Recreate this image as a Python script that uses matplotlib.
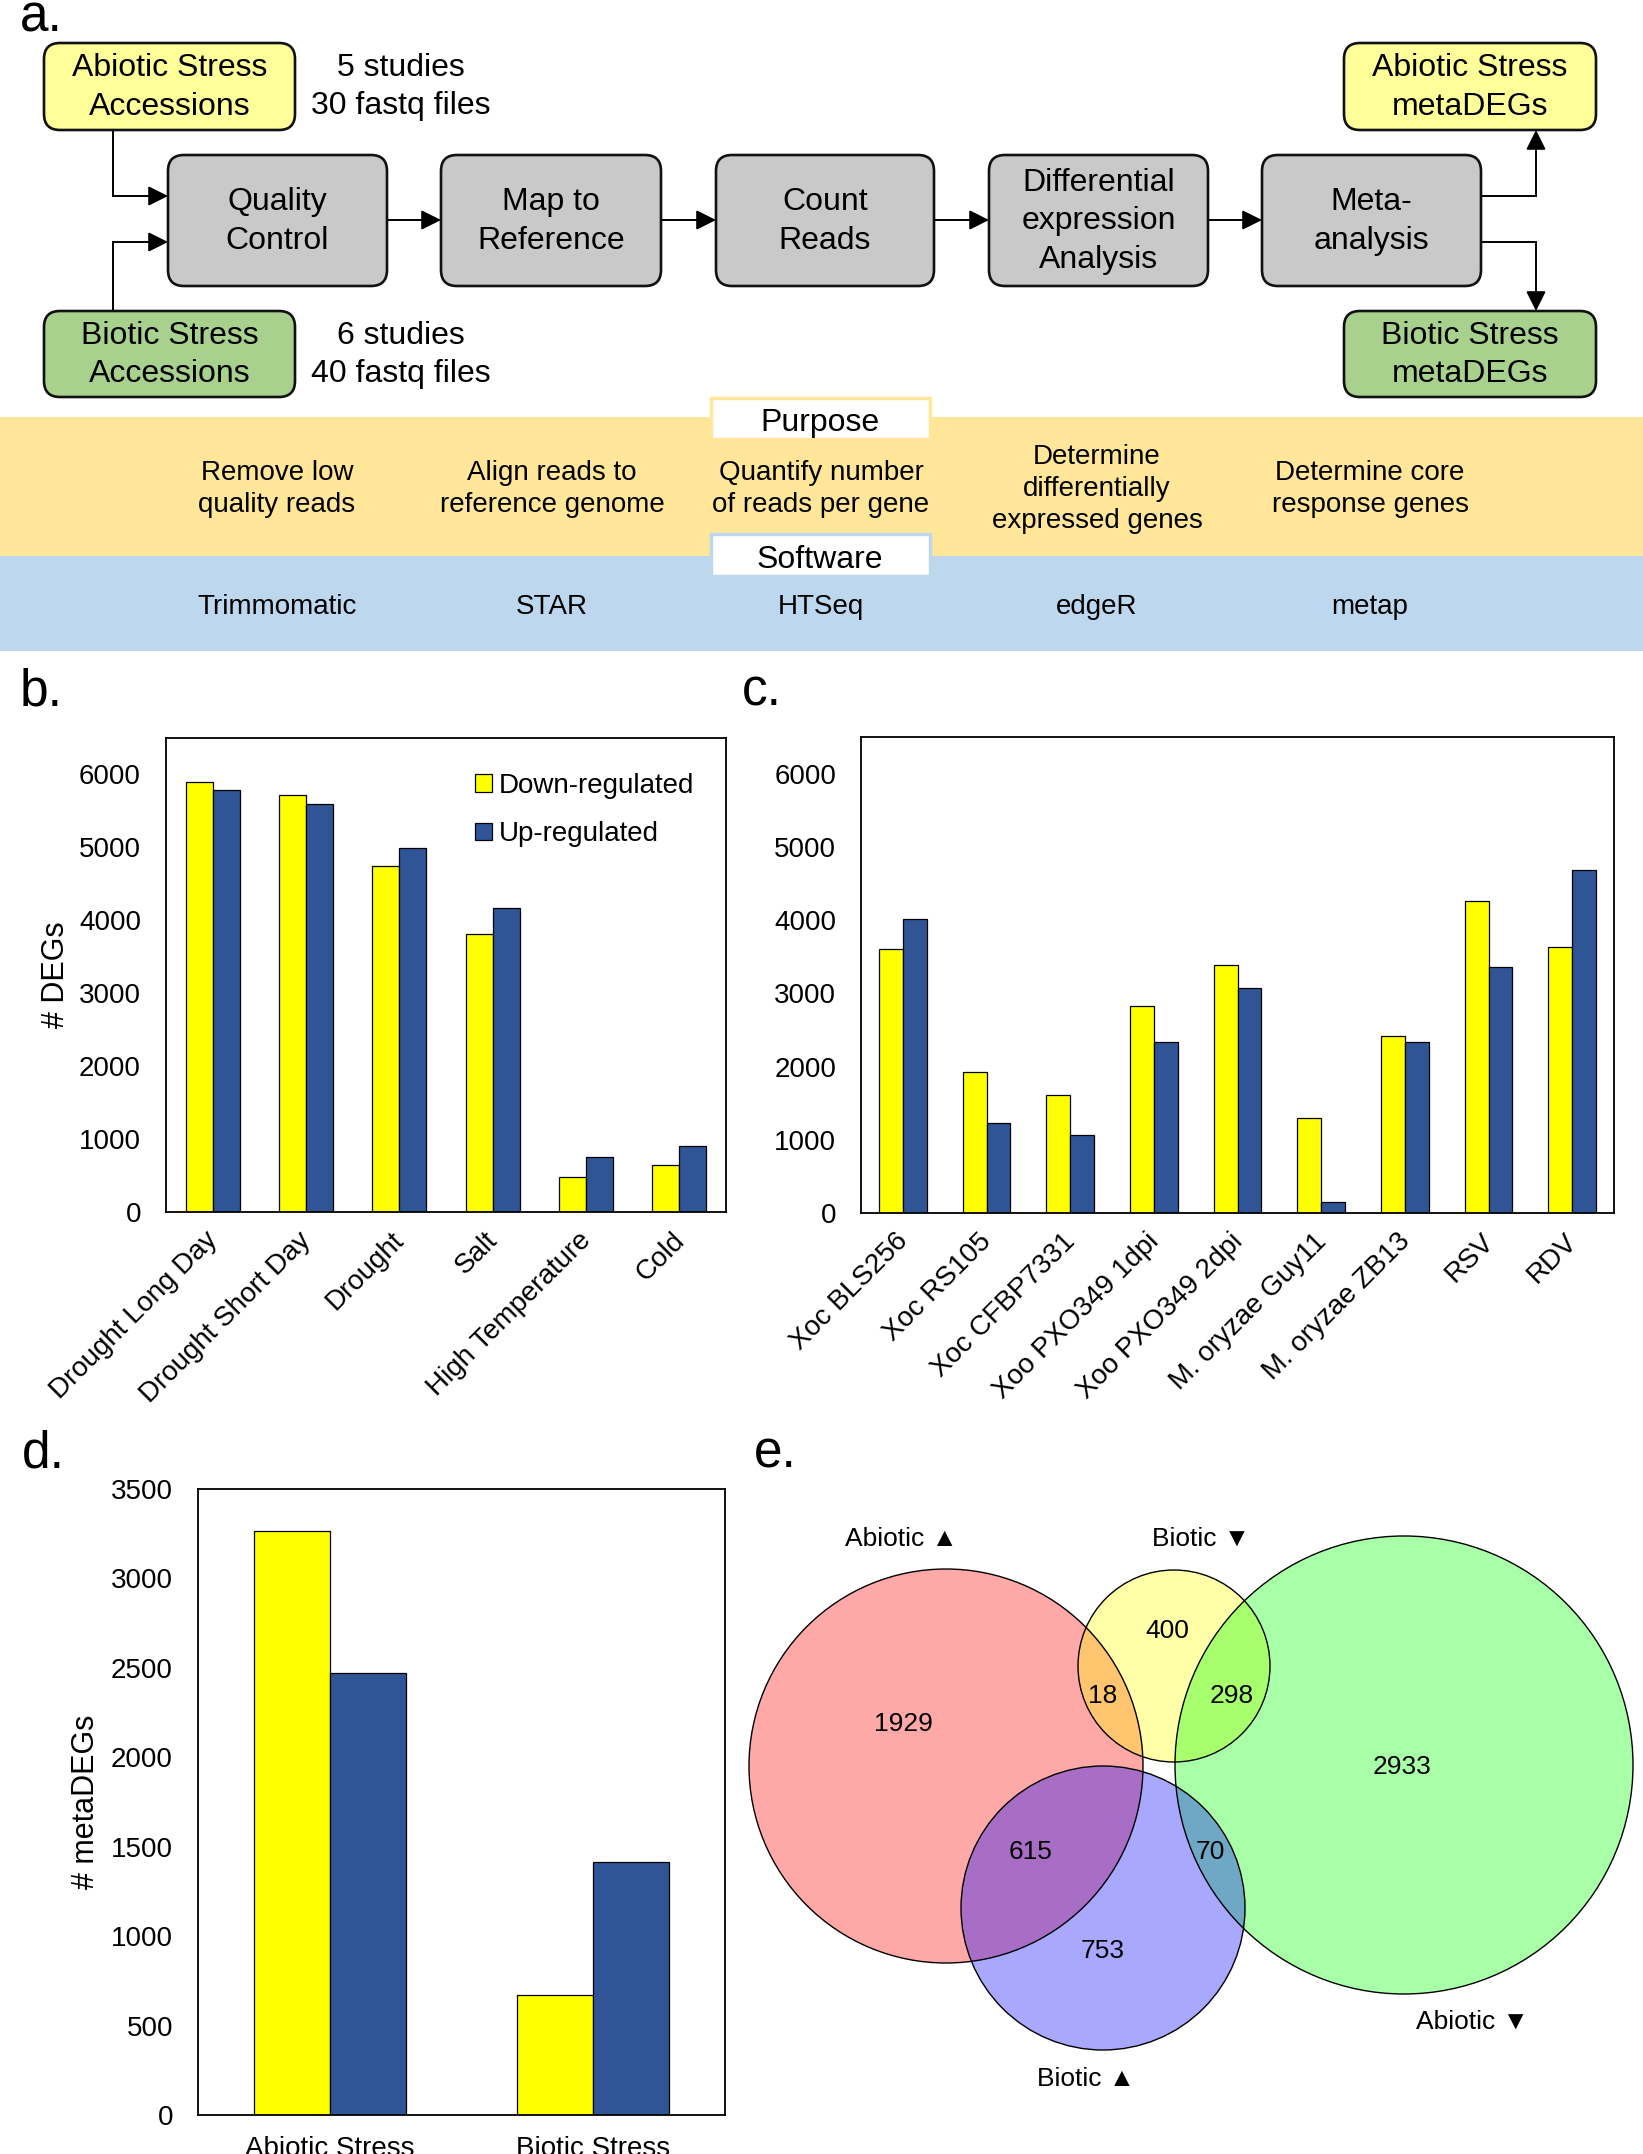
import numpy as np
import matplotlib
matplotlib.use("Agg")
import matplotlib.pyplot as plt
import matplotlib.transforms as mtransforms
from matplotlib.patches import FancyBboxPatch, Rectangle, Circle

plt.rcParams['font.family'] = ['Liberation Sans', 'DejaVu Sans']

# ---- data ----
abiotic_conditions = ["Drought Long Day", "Drought Short Day", "Drought", "Salt",
                      "High Temperature", "Cold"]
abiotic_down = [5890, 5720, 4750, 3810, 480, 645]
abiotic_up = [5785, 5600, 4990, 4175, 750, 905]

biotic_conditions = ["Xoc BLS256", "Xoc RS105", "Xoc CFBP7331", "Xoo PXO349 1dpi",
                     "Xoo PXO349 2dpi", "M. oryzae Guy11", "M. oryzae ZB13", "RSV", "RDV"]
biotic_down = [3610, 1925, 1610, 2820, 3390, 1300, 2420, 4265, 3635]
biotic_up = [4020, 1235, 1060, 2340, 3075, 145, 2330, 3360, 4690]

meta_groups = ["Abiotic Stress", "Biotic Stress"]
meta_down = [3265, 670]
meta_up = [2470, 1415]

venn_sets = ["Abiotic \u25B2", "Biotic \u25BC", "Abiotic \u25BC", "Biotic \u25B2"]
venn_counts = ["1929", "400", "2933", "753", "18", "298", "615", "70"]

steps = ["Quality\nControl", "Map to\nReference", "Count\nReads",
         "Differential\nexpression\nAnalysis", "Meta-\nanalysis"]
purpose = ["Remove low\nquality reads", "Align reads to\nreference genome",
           "Quantify number\nof reads per gene", "Determine\ndifferentially\nexpressed genes",
           "Determine core\nresponse genes"]
software = ["Trimmomatic", "STAR", "HTSeq", "edgeR", "metap"]

YEL = "#FFFF00"
BLU = "#2F5597"
W, H = 1643, 2154

fig = plt.figure(figsize=(W / 100, H / 100), dpi=100)

# background axes in pixel coordinates (panel a + venn)
bg = fig.add_axes([0, 0, 1, 1])
bg.set_xlim(0, W)
bg.set_ylim(H, 0)
bg.axis("off")


def px_axes(x0, y0, x1, y1):
    return fig.add_axes([x0 / W, 1 - y1 / H, (x1 - x0) / W, (y1 - y0) / H])


def rbox(x0, y0, x1, y1, fc, text, r=16):
    p = FancyBboxPatch((x0, y0), x1 - x0, y1 - y0,
                       boxstyle="round,pad=0,rounding_size=%d" % r,
                       fc=fc, ec="#111111", lw=1.9, zorder=3)
    bg.add_patch(p)
    bg.text((x0 + x1) / 2, (y0 + y1) / 2 + 1, text, ha="center", va="center",
            fontsize=23, linespacing=1.35, zorder=4)


def arrow(x0, y0, x1, y1):
    bg.annotate("", xy=(x1, y1), xytext=(x0, y0),
                arrowprops=dict(arrowstyle="-|>,head_length=0.6,head_width=0.3",
                                color="black", lw=1.4, shrinkA=0, shrinkB=0,
                                mutation_scale=20), zorder=2)


# ---- panel a ----
bg.text(20, 32, "a.", fontsize=37, ha="left", va="baseline")
rbox(44, 43, 295, 130, "#FFFF99", "Abiotic Stress\nAccessions")
rbox(44, 311, 295, 397, "#A9D18E", "Biotic Stress\nAccessions")
rbox(1344, 43, 1596, 130, "#FFFF99", "Abiotic Stress\nmetaDEGs")
rbox(1344, 311, 1596, 397, "#A9D18E", "Biotic Stress\nmetaDEGs")
bg.text(401, 87, "5 studies\n30 fastq files", ha="center", va="center",
        fontsize=23, linespacing=1.35)
bg.text(401, 355, "6 studies\n40 fastq files", ha="center", va="center",
        fontsize=23, linespacing=1.35)

box_x = [(168, 387), (441, 661), (716, 934), (989, 1208), (1262, 1481)]
for (x0, x1), s in zip(box_x, steps):
    rbox(x0, 155, x1, 286, "#C9C9C9", s)
for i in range(len(box_x) - 1):
    arrow(box_x[i][1], 220, box_x[i + 1][0], 220)

bg.plot([113, 113], [130, 196], color="black", lw=1.4, zorder=2)
arrow(113, 196, 168, 196)
bg.plot([113, 113], [311, 242], color="black", lw=1.4, zorder=2)
arrow(113, 242, 168, 242)
bg.plot([1481, 1536], [196, 196], color="black", lw=1.4, zorder=2)
arrow(1536, 196, 1536, 130)
bg.plot([1481, 1536], [242, 242], color="black", lw=1.4, zorder=2)
arrow(1536, 242, 1536, 311)

# purpose / software bands
bg.add_patch(Rectangle((0, 417), W, 139, fc="#FFE699", ec="none", zorder=1))
bg.add_patch(Rectangle((0, 556), W, 95, fc="#BDD7EE", ec="none", zorder=1))
bg.add_patch(Rectangle((711, 398), 219, 41, fc="white", ec="#FFE699", lw=2.5, zorder=2))
bg.add_patch(Rectangle((711, 534), 219, 42, fc="white", ec="#BDD7EE", lw=2.5, zorder=2))
bg.text(820, 423, "Purpose", ha="center", va="center", fontsize=23, zorder=3)
bg.text(820, 560, "Software", ha="center", va="center", fontsize=23, zorder=3)
col_x = [277, 552, 821, 1097, 1370]
for x, p, s in zip(col_x, purpose, software):
    bg.text(x, 489, p, ha="center", va="center", fontsize=20, linespacing=1.29, zorder=3)
    bg.text(x, 607, s, ha="center", va="center", fontsize=20, zorder=3)


# ---- bar panels ----
def bars(ax, down, up, width=0.29):
    x = np.arange(len(down))
    ax.bar(x - width / 2, down, width, color=YEL, edgecolor="black", lw=0.9,
           label="Down-regulated")
    ax.bar(x + width / 2, up, width, color=BLU, edgecolor="black", lw=0.9,
           label="Up-regulated")
    ax.set_xlim(-0.5, len(down) - 0.5)
    ax.set_xticks(x)
    for sp in ax.spines.values():
        sp.set_linewidth(1.3)
    ax.tick_params(length=0, labelsize=20, pad=18)


def rotate_labels(ax, labels):
    ax.set_xticklabels(labels, rotation=45, ha="right", va="top",
                       rotation_mode="anchor")
    ax.tick_params(axis="x", pad=11)
    shift = mtransforms.ScaledTranslation(-0.08, 0, fig.dpi_scale_trans)
    for t in ax.get_xticklabels():
        t.set_transform(t.get_transform() + shift)


axb = px_axes(166, 738, 726, 1212)
bars(axb, abiotic_down, abiotic_up)
axb.set_ylim(0, 6500)
axb.set_yticks(range(0, 6001, 1000))
rotate_labels(axb, abiotic_conditions)
axb.set_ylabel("# DEGs", fontsize=22, labelpad=6)
axb.legend(loc="upper left", bbox_to_anchor=((475 - 166) / 560, 1 - (773 - 738) / 474),
           frameon=False, fontsize=20, handlelength=0.6, handleheight=0.6,
           handletextpad=0.25, labelspacing=0.8, borderpad=0, borderaxespad=0)
fig.text(20 / W, 1 - 706 / H, "b.", fontsize=37, ha="left", va="baseline")

axc = px_axes(861, 737, 1614, 1213)
bars(axc, biotic_down, biotic_up, width=0.285)
axc.set_ylim(0, 6500)
axc.set_yticks(range(0, 6001, 1000))
rotate_labels(axc, biotic_conditions)
fig.text(742 / W, 1 - 706 / H, "c.", fontsize=37, ha="left", va="baseline")

axd = px_axes(198, 1489, 725, 2115)
bars(axd, meta_down, meta_up, width=0.288)
axd.set_ylim(0, 3500)
axd.set_yticks(range(0, 3501, 500))
axd.set_xticklabels(meta_groups)
axd.tick_params(axis="x", pad=15)
axd.set_ylabel("# metaDEGs", fontsize=22, labelpad=7)
fig.text(22 / W, 1 - 1467 / H, "d.", fontsize=37, ha="left", va="baseline")

# ---- panel e: venn ----
fig.text(754 / W, 1 - 1467 / H, "e.", fontsize=37, ha="left", va="baseline")
circles = [((946, 1766), 197, "red"), ((1174, 1666), 96, "yellow"),
           ((1404, 1765), 229, "lime"), ((1103, 1908), 142, "blue")]
for c, r, col in circles:
    bg.add_patch(Circle(c, r, fc=col, alpha=0.34, ec="none", zorder=2))
for c, r, col in circles:
    bg.add_patch(Circle(c, r, fill=False, ec="black", lw=1.0, zorder=3))

set_label_xy = [(901, 1539), (1201, 1539), (1472, 2022), (1086, 2079)]
for (x, y), s in zip(set_label_xy, venn_sets):
    bg.text(x, y, s, ha="center", va="center", fontsize=19, zorder=4)
count_xy = [(903, 1724), (1167, 1631), (1402, 1767), (1103, 1951),
            (1103, 1696), (1232, 1696), (1031, 1852), (1210, 1852)]
for (x, y), s in zip(count_xy, venn_counts):
    bg.text(x, y, s, ha="center", va="center", fontsize=19, zorder=4)

fig.savefig("out.png", dpi=100)
